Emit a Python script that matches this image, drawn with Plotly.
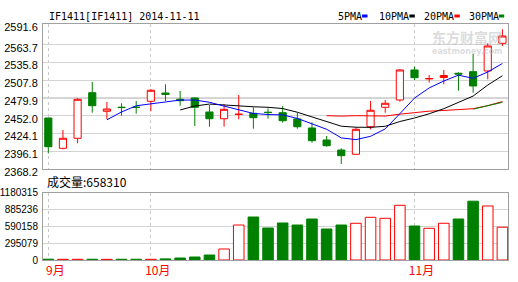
import plotly.graph_objects as go

# ---------------- data ----------------
dates = ["2014-09-22", "2014-09-23", "2014-09-24", "2014-09-25", "2014-09-26", "2014-09-29", "2014-09-30",
         "2014-10-08", "2014-10-09", "2014-10-10", "2014-10-13", "2014-10-14", "2014-10-15", "2014-10-16",
         "2014-10-17", "2014-10-20", "2014-10-21", "2014-10-22", "2014-10-23", "2014-10-24", "2014-10-27",
         "2014-10-28", "2014-10-29", "2014-10-30", "2014-10-31", "2014-11-03", "2014-11-04", "2014-11-05",
         "2014-11-06", "2014-11-07", "2014-11-10", "2014-11-11"]

opens = [2448.5, 2400.8, 2416.6, 2488.4, 2459.1, 2465.6, 2465.6, 2474.9, 2487.9, 2478.0, 2480.1, 2458.0,
         2447.4, 2454.1, 2455.9, 2457.7, 2456.9, 2447.0, 2432.8, 2413.9, 2398.1, 2391.4, 2434.8, 2465.4,
         2476.9, 2524.2, 2510.1, 2512.3, 2519.0, 2521.5, 2522.6, 2566.2]
highs = [2449.0, 2429.6, 2479.6, 2505.3, 2473.7, 2471.7, 2475.3, 2494.2, 2501.6, 2491.1, 2480.8, 2469.0,
         2470.1, 2484.8, 2465.4, 2463.8, 2467.4, 2456.9, 2441.8, 2420.2, 2400.8, 2433.9, 2475.3, 2476.9,
         2525.7, 2529.4, 2516.3, 2524.2, 2520.5, 2549.4, 2566.2, 2588.3]
lows = [2392.9, 2399.2, 2408.7, 2456.9, 2447.0, 2452.2, 2455.3, 2459.1, 2475.3, 2467.9, 2435.9, 2434.8,
        2434.8, 2446.5, 2431.7, 2447.4, 2441.1, 2431.7, 2409.6, 2403.3, 2376.1, 2390.6, 2430.7, 2456.9,
        2474.2, 2508.4, 2504.2, 2501.6, 2491.6, 2488.4, 2509.5, 2562.0]
closes = [2403.3, 2416.6, 2478.0, 2467.9, 2462.7, 2465.0, 2465.2, 2492.2, 2485.6, 2475.8, 2465.4, 2447.4,
          2462.2, 2454.5, 2449.0, 2457.1, 2444.3, 2434.8, 2412.8, 2404.9, 2389.2, 2430.7, 2460.7, 2471.7,
          2524.2, 2512.0, 2510.7, 2515.5, 2517.7, 2499.0, 2562.0, 2577.7]
volumes = [16000, 14000, 14000, 15000, 13000, 15000, 15000, 14000, 22000, 40000, 60000, 100000,
           221000, 702000, 863000, 642000, 743000, 702000, 823000, 622000, 702000, 737000, 857000, 837000,
           1098000, 682000, 636000, 737000, 823000, 1180315, 1084000, 658310]

# moving averages (first value at the given date index)
ma5_start, ma5 = 4, [2445.7, 2458.0, 2467.8, 2470.6, 2474.1, 2476.8, 2476.8, 2473.3, 2467.3, 2461.1,
                     2455.7, 2454.0, 2453.4, 2447.9, 2439.6, 2430.8, 2417.2, 2414.5, 2419.7, 2431.4,
                     2455.3, 2479.9, 2495.9, 2506.8, 2516.0, 2511.0, 2521.0, 2534.4]
ma10_start, ma10 = 9, [2461.2, 2467.4, 2470.5, 2468.9, 2467.6, 2466.2, 2465.4, 2463.4, 2457.6, 2450.3,
                       2443.2, 2435.6, 2434.0, 2433.8, 2435.5, 2443.0, 2448.5, 2455.2, 2463.2, 2473.7,
                       2483.1, 2500.4, 2515.1]
ma20_start, ma20 = 19, [2452.2, 2451.5, 2452.2, 2451.4, 2451.6, 2454.6, 2457.0, 2459.3, 2460.4, 2462.0,
                        2463.2, 2468.0, 2474.5]
ma30_start, ma30 = 29, [2462.5, 2467.8, 2473.2]

price_tick_vals = [2368.2, 2396.1, 2424.1, 2452.0, 2479.9, 2507.8, 2535.8, 2563.7, 2596.6]
price_tick_text = ["2368.2", "2396.1", "2424.1", "2452.0", "2479.9", "2507.8", "2535.8", "2563.7", "2591.6"]
vol_tick_text = ["0", "295079", "590158", "885236", "1180315"]
month_names = ["9月", "10月", "11月"]
title_text = "IF1411[IF1411] 2014-11-11"
legend_names = ["5PMA", "10PMA", "20PMA", "30PMA"]
legend_colors = ["#0000ff", "#000000", "#ff0000", "#008000"]

# ---------------- layout helpers ----------------
W, H = 518, 282
L, R, T, B = 43, 10, 24, 22
PW, PH = W - L - R, H - T - B


def pxx(x):
    return (x - L) / PW


def pxy(y):
    return (T + PH - y) / PH


price_bottom = pxy(169)
vol_top = pxy(192.7)
y_top = 2596.6
vol_axis_max = 1350700

idx = list(range(len(dates)))
month_idx = [i for i in idx if i == 0 or dates[i][5:7] != dates[i - 1][5:7]]

fig = go.Figure()

fig.add_trace(go.Candlestick(
    x=idx, open=opens, high=highs, low=lows, close=closes, text=dates,
    increasing=dict(line=dict(color="#ff0000", width=1), fillcolor="#ffffff"),
    decreasing=dict(line=dict(color="#008000", width=1), fillcolor="#008000"),
    whiskerwidth=0, xaxis="x", yaxis="y", hoverinfo="skip", showlegend=False))

for start, vals, col in [(ma20_start, ma20, "#ff0000"), (ma30_start, ma30, "#008000"),
                         (ma10_start, ma10, "#000000"), (ma5_start, ma5, "#0000ff")]:
    fig.add_trace(go.Scatter(x=idx[start:start + len(vals)], y=vals, mode="lines",
                             line=dict(color=col, width=1), xaxis="x", yaxis="y",
                             hoverinfo="skip", showlegend=False))

up = [c >= o for o, c in zip(opens, closes)]
fig.add_trace(go.Bar(
    x=idx, y=volumes, xaxis="x2", yaxis="y2",
    marker=dict(color=["#ffffff" if u else "#008000" for u in up],
                line=dict(color=["#ff0000" if u else "#008000" for u in up], width=1)),
    hoverinfo="skip", showlegend=False))

axis_common = dict(type="linear", range=[-0.362, 31.382], tickvals=month_idx,
                   showgrid=True, gridcolor="#c8c8c8", griddash="3px,3px", gridwidth=1,
                   showline=True, linecolor="#a0a0a0", linewidth=1, mirror=True,
                   ticks="", zeroline=False, fixedrange=True, automargin=False)

fig.update_layout(
    width=W, height=H, margin=dict(l=L, r=R, t=T, b=B, autoexpand=False),
    paper_bgcolor="white", plot_bgcolor="white", showlegend=False,
    bargap=0.28, boxgap=0.3,
    xaxis=dict(**axis_common, domain=[0, 1], anchor="y", showticklabels=False,
               rangeslider=dict(visible=False)),
    xaxis2=dict(**axis_common, domain=[0, 1], anchor="y2", showticklabels=True,
                ticktext=month_names,
                tickfont=dict(family="Noto Sans CJK SC", size=12, color="#ff0000"),
                ticklabelshift=7, ticklabelstandoff=0),
    yaxis=dict(domain=[price_bottom, 1], anchor="x", range=[2368.2, y_top],
               tickvals=price_tick_vals, ticktext=price_tick_text,
               showgrid=True, gridcolor="#d3d3d3", gridwidth=1,
               showline=True, linecolor="#a0a0a0", linewidth=1, mirror=True,
               ticks="", zeroline=False, fixedrange=True, automargin=False,
               tickfont=dict(family="Liberation Sans", size=11, color="#000000"),
               ticklabelshift=3, ticklabelstandoff=2),
    yaxis2=dict(domain=[0, vol_top], anchor="x2", range=[0, vol_axis_max],
                tickvals=[vol_axis_max * i / 4 for i in range(5)], ticktext=vol_tick_text,
                showgrid=True, gridcolor="#d3d3d3", gridwidth=1,
                showline=True, linecolor="#a0a0a0", linewidth=1, mirror=True,
                ticks="", zeroline=False, fixedrange=True, automargin=False,
                tickfont=dict(family="Liberation Sans", size=10, color="#000000"),
                ticklabelstandoff=2),
)

shapes = [dict(type="line", xref="x domain", x0=0, x1=1, yref="y", y0=2479.9, y1=2479.9,
               line=dict(color="#a0a0a0", width=1), layer="below")]
annotations = []

annotations.append(dict(text=title_text, xref="paper", yref="paper", x=pxx(46.5), y=pxy(16.5),
                        xanchor="left", yanchor="middle", showarrow=False,
                        font=dict(family="DejaVu Sans Mono", size=10, color="#000000")))

leg_x = [336, 377.3, 422.3, 466.7]
for name, col, x0 in zip(legend_names, legend_colors, leg_x):
    annotations.append(dict(text=name, xref="paper", yref="paper", x=pxx(x0), y=pxy(16.5),
                            xanchor="left", yanchor="middle", showarrow=False,
                            font=dict(family="DejaVu Sans Mono", size=10, color="#000000")))
    sx = x0 + len(name) * 6.02 + 2
    shapes.append(dict(type="rect", xref="paper", yref="paper", x0=pxx(sx), x1=pxx(sx + 5.4),
                       y0=pxy(17.5), y1=pxy(14.5), fillcolor=col, line=dict(width=0)))

annotations.append(dict(text="成交量:" + str(volumes[-1]), xref="paper", yref="paper",
                        x=pxx(45), y=pxy(181), xanchor="left", yanchor="middle", showarrow=False,
                        font=dict(family="Noto Sans CJK SC", size=12, color="#000000")))

annotations.append(dict(text="<b>东方财富网</b>", xref="paper", yref="paper", x=pxx(467), y=pxy(37.5),
                        xanchor="center", yanchor="middle", showarrow=False,
                        font=dict(family="Noto Sans CJK SC", size=14, color="rgba(190,190,190,0.55)")))
annotations.append(dict(text="<b>eastmoney.com</b>", xref="paper", yref="paper", x=pxx(467), y=pxy(51.5),
                        xanchor="center", yanchor="middle", showarrow=False,
                        font=dict(family="DejaVu Sans", size=8, color="rgba(190,190,190,0.55)")))

fig.update_layout(shapes=shapes, annotations=annotations)

fig.write_html("out.html")
